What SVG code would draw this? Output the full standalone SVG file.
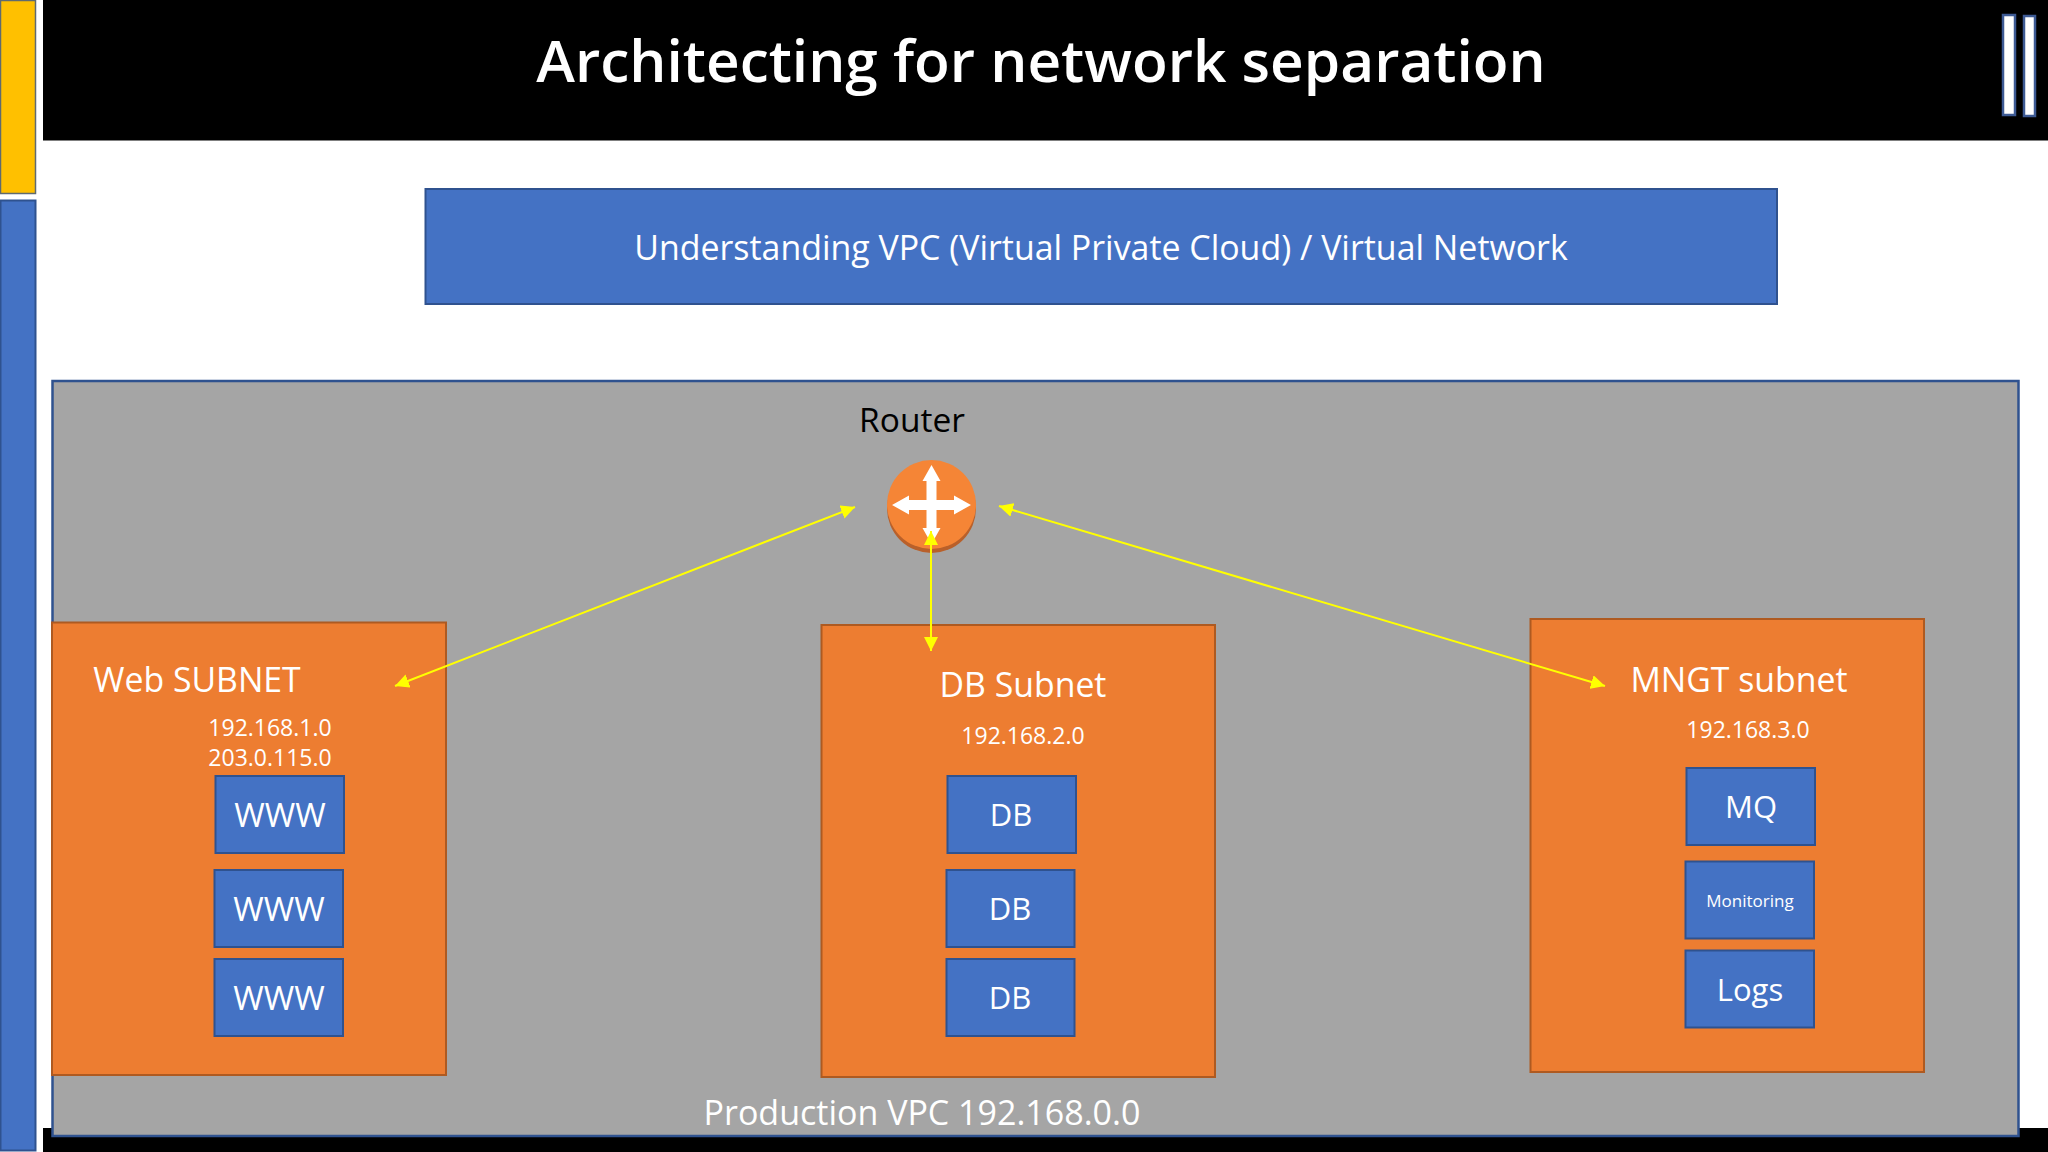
<svg xmlns="http://www.w3.org/2000/svg" width="2048" height="1152" viewBox="0 0 2048 1152">
<style>
text{font-family:"Open Sans","Noto Sans",sans-serif;fill:#fff;text-anchor:middle}
.sub{fill:#ed7d31;stroke:#ae5a21;stroke-width:2}
.box{fill:#4472c4;stroke:#2f528f;stroke-width:2}
.h{font-size:33.800px}.ip{font-size:23px}.s{font-size:31px}.w{font-size:33px}
.c{stroke:#ffff00;stroke-width:2;fill:none;marker-start:url(#a);marker-end:url(#a)}
</style>
<defs><marker id="a" markerUnits="userSpaceOnUse" markerWidth="14" markerHeight="14" refX="12" refY="6" orient="auto-start-reverse" viewBox="0 0 12 12"><path d="M0 0L12 6L0 12z" fill="#ffff00"/></marker></defs>
<rect width="2048" height="1152" fill="#fff"/>
<g id="chrome">
<rect x="0.500" y="0.500" width="35" height="193" fill="#ffc000" stroke="#5f6a70" stroke-width="1.500"/>
<rect x="0.500" y="200.500" width="35" height="950" fill="#4472c4" stroke="#2f528f" stroke-width="2"/>
<rect x="43" y="0" width="2005" height="140.500" fill="#000"/>
<rect x="43" y="1128" width="2005" height="24" fill="#000"/>
<rect x="2003" y="15" width="12" height="100" fill="#fff" stroke="#3d5a94" stroke-width="2.500"/>
<rect x="2024" y="16" width="11" height="100" fill="#fff" stroke="#3d5a94" stroke-width="2.500"/>
<text x="1041" y="82" font-weight="600" style="font-size:58.500px">Architecting for network separation</text>
</g>
<g id="banner"><rect x="425.500" y="189" width="1351.500" height="115" class="box"/><text x="1101" y="260" style="font-size:33.900px">Understanding VPC (Virtual Private Cloud) / Virtual Network</text></g>
<g id="vpc"><rect x="52.500" y="381" width="1966" height="755" fill="#a5a5a5" stroke="#2f528f" stroke-width="2.500"/><text x="922" y="1125" style="font-size:34px">Production VPC 192.168.0.0</text></g>
<g id="web-subnet"><rect x="52" y="622.500" width="394" height="452.500" class="sub"/><text x="197" y="692" class="h">Web SUBNET</text><text x="270" y="736" class="ip">192.168.1.0</text><text x="270" y="766" class="ip">203.0.115.0</text></g>
<g id="db-subnet"><rect x="821.500" y="625" width="393.500" height="452" class="sub"/><text x="1023" y="697" class="h">DB Subnet</text><text x="1023" y="744" class="ip">192.168.2.0</text></g>
<g id="mngt-subnet"><rect x="1530.500" y="619" width="393.500" height="453" class="sub"/><text x="1739" y="692" class="h">MNGT subnet</text><text x="1748" y="738" class="ip">192.168.3.0</text></g>
<g id="www1"><rect x="215.500" y="776" width="128.500" height="77" class="box"/><text x="280" y="827" class="w">WWW</text></g>
<g id="www2"><rect x="214.500" y="870" width="128.500" height="77" class="box"/><text x="279" y="921" class="w">WWW</text></g>
<g id="www3"><rect x="214.500" y="959" width="128.500" height="77" class="box"/><text x="279" y="1010" class="w">WWW</text></g>
<g id="db1"><rect x="947.500" y="776" width="128.500" height="77" class="box"/><text x="1011" y="826" class="s">DB</text></g>
<g id="db2"><rect x="946.500" y="870" width="128" height="77" class="box"/><text x="1010" y="920" class="s">DB</text></g>
<g id="db3"><rect x="946.500" y="959" width="128" height="77" class="box"/><text x="1010" y="1009" class="s">DB</text></g>
<g id="mq"><rect x="1686.500" y="768" width="128.500" height="77" class="box"/><text x="1751" y="818" class="s">MQ</text></g>
<g id="monitoring"><rect x="1685.500" y="861.500" width="128.500" height="77" class="box"/><text x="1750" y="907" style="font-size:17px">Monitoring</text></g>
<g id="logs"><rect x="1685.500" y="950.500" width="128.500" height="77" class="box"/><text x="1750" y="1001" class="s">Logs</text></g>
<g id="router">
<text x="912" y="431.500" style="fill:#000;font-size:33.500px">Router</text>
<circle cx="931.500" cy="508.500" r="44.500" fill="#b9602a"/>
<circle cx="931.500" cy="504.500" r="44.500" fill="#f58536"/>
<path d="M931.500 465L940.500 481H936.500V500H954V495.500L971 505L954 514.500V510H936.500V528H940.500L931.500 544L922.500 528H926.500V510H909V514.500L892 505L909 495.500V500H926.500V481H922.500z" fill="#fff"/>
</g>
<g id="connectors">
<line class="c" x1="855" y1="507" x2="395" y2="686"/>
<line class="c" x1="931" y1="531" x2="931" y2="651"/>
<line class="c" x1="999" y1="506" x2="1605" y2="686"/>
</g>
</svg>
